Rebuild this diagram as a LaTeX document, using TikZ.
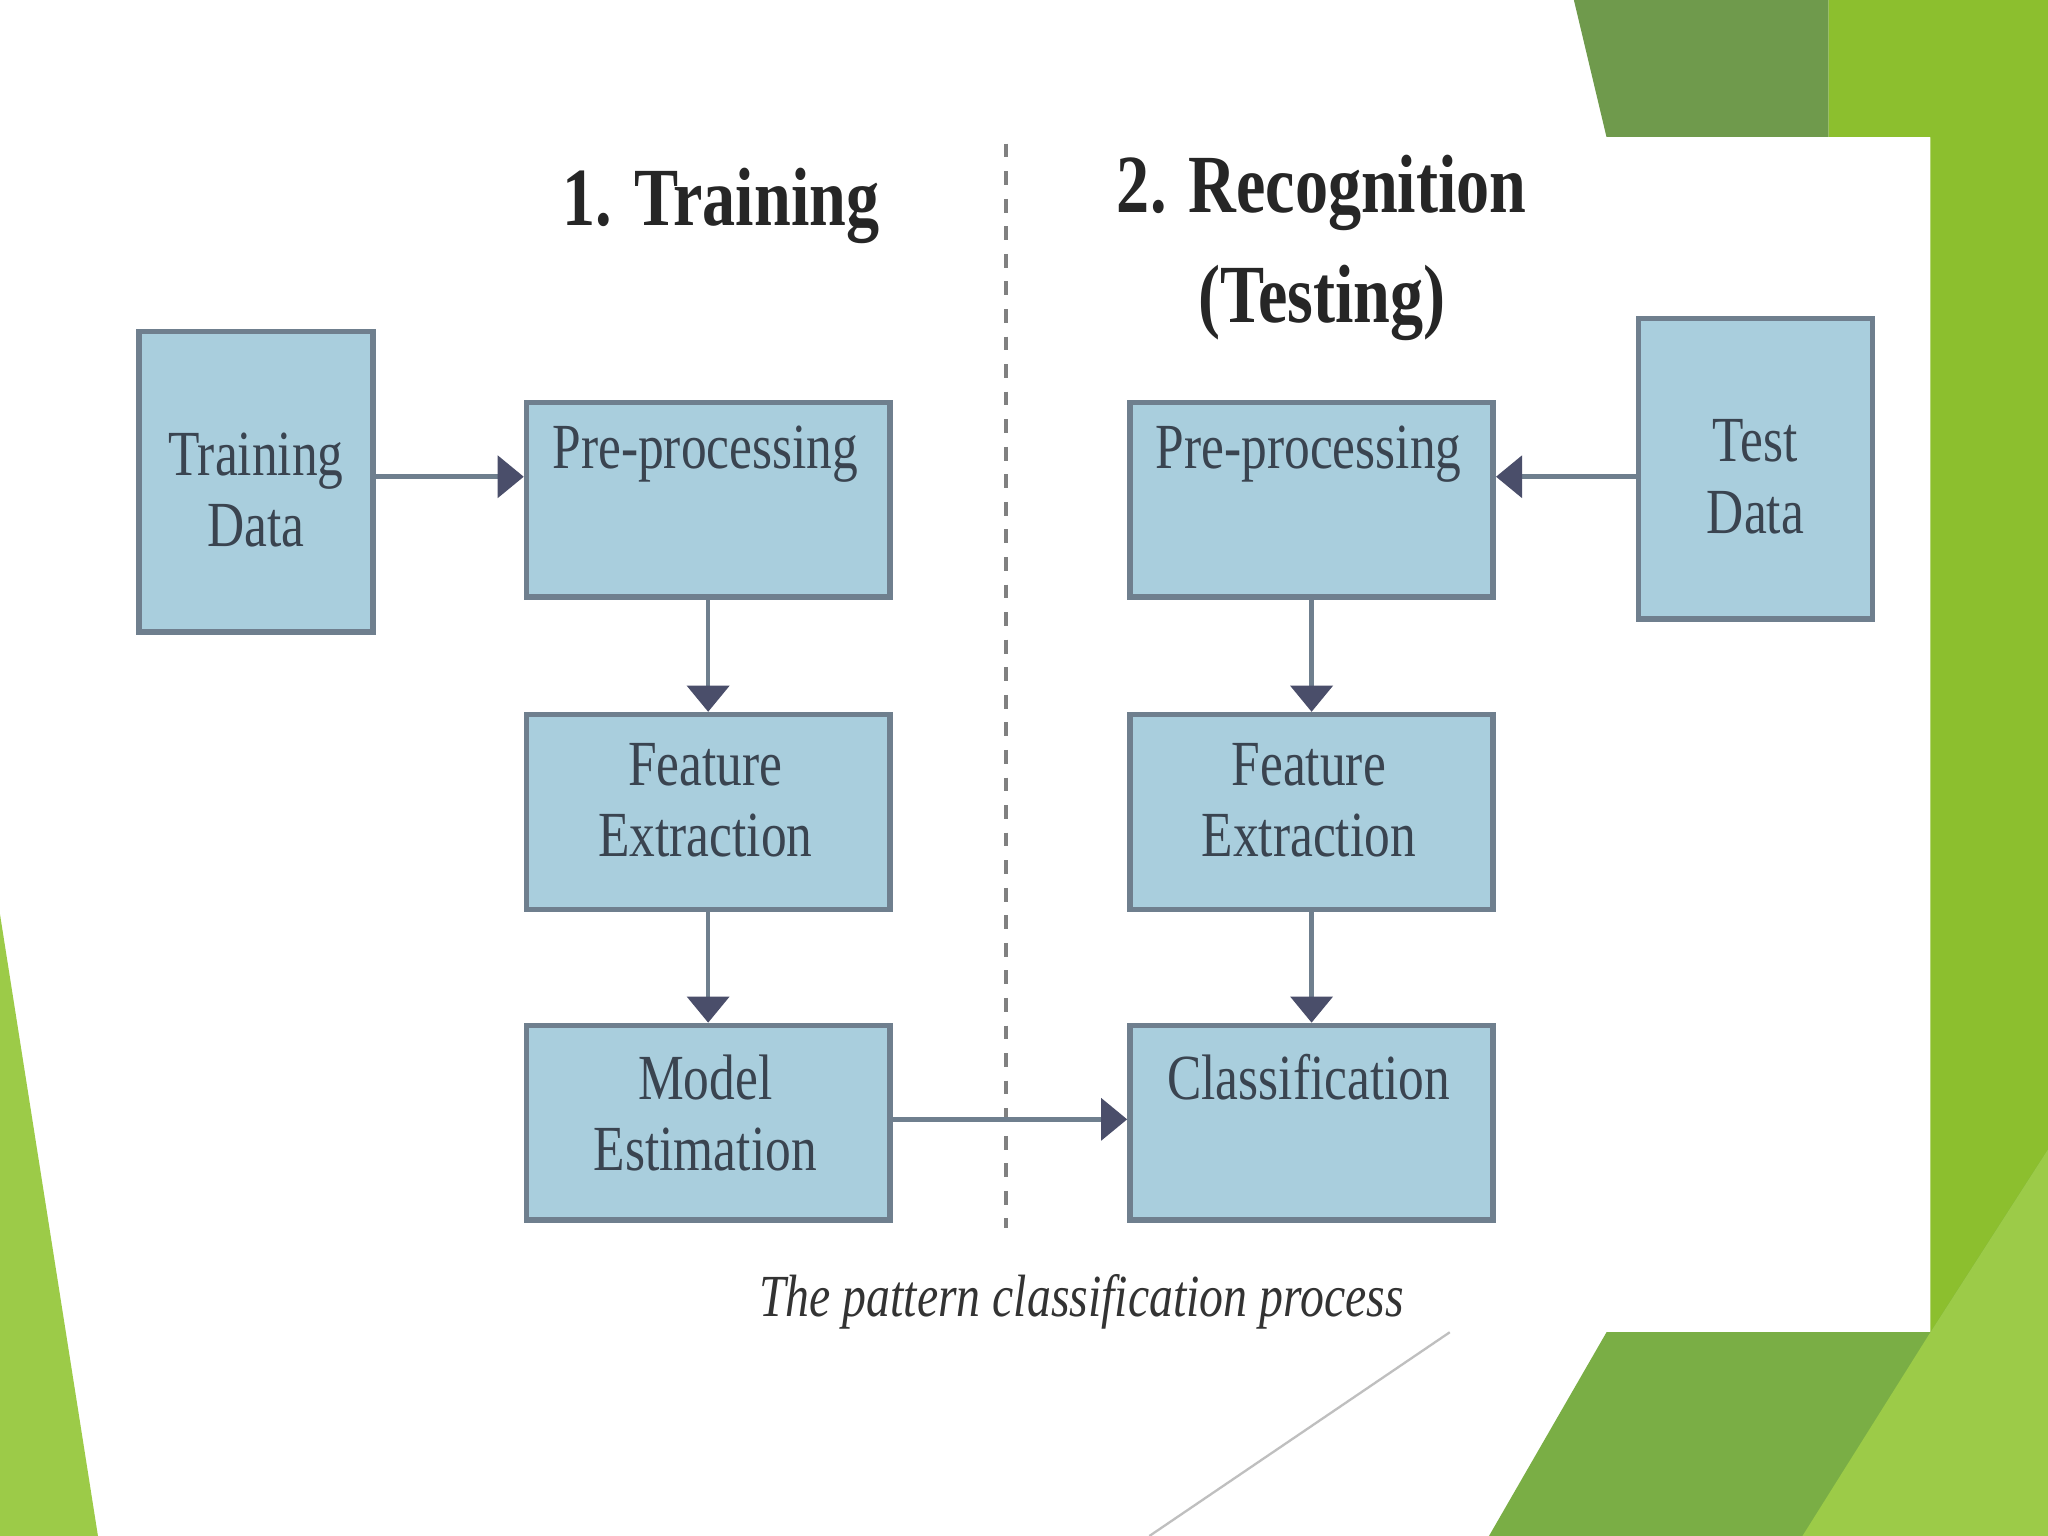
\documentclass[tikz,border=0pt]{standalone}
\usepackage{fontspec}
\setmainfont{Liberation Serif}[FakeStretch=0.8]
\usetikzlibrary{arrows.meta,shapes.geometric}
\definecolor{boxfill}{HTML}{A9CEDD}
\definecolor{boxline}{HTML}{6F7F8E}
\definecolor{arr}{HTML}{4A4E6A}
\definecolor{txt}{HTML}{3A4450}
\definecolor{gA}{HTML}{6F9A4C}
\definecolor{gB}{HTML}{8CBF2E}
\definecolor{gC}{HTML}{7AAE45}
\definecolor{gD}{HTML}{9CCB48}
\begin{document}
\begin{tikzpicture}[x=0.01cm,y=-0.01cm,
  box/.style={draw=boxline,line width=1.2pt,fill=boxfill,minimum width=2.78cm,minimum height=1.49cm,anchor=north west,inner sep=0pt},
  lbl/.style={text=txt,font=\fontsize{14}{15.5}\selectfont,align=center},
  cyl/.style={cylinder,shape border rotate=90,draw=boxline,line width=1.2pt,fill=boxfill,minimum width=1.79cm,minimum height=2.3cm,aspect=0.3,inner sep=0pt},
  con/.style={draw=boxline,line width=1pt,-{Triangle[length=0.2cm,width=0.32cm,color=arr]}}]
\useasboundingbox (0,0) rectangle (1568,1176);
\fill[white] (0,0) rectangle (1568,1176);
% green decoration
\fill[gA] (1205,0) -- (1400,0) -- (1400,105) -- (1230,105) -- cycle;
\fill[gB] (1400,0) -- (1568,0) -- (1568,1176) -- (1478,1176) -- (1478,105) -- (1400,105) -- cycle;
\fill[gC] (1140,1176) -- (1230,1020) -- (1478,1020) -- (1568,880) -- (1568,1176) -- cycle;
\fill[gD] (1380,1176) -- (1478,1020) -- (1568,880) -- (1568,1176) -- cycle;
\fill[white] (60,105) rectangle (1478,1020);
\fill[gD] (0,700) -- (75,1176) -- (0,1176) -- cycle;
\draw[gray!50,line width=0.5pt] (880,1176) -- (1110,1020);
% titles
\node[font=\bfseries\fontsize{18}{24}\selectfont,text=black!85] (t1) at (552,158) {1. Training};
\node[font=\bfseries\fontsize{18}{24}\selectfont,text=black!85,align=center] (t2) at (1012,190) {2. Recognition\\(Testing)};
\draw[dashed,gray,line width=0.8pt] (770,110) coordinate (d1) -- (770,940) coordinate (d2);
% boxes
\node[box] (p1) at (401,306) {};
\node[box] (f1) at (401,545) {};
\node[box] (m1) at (401,783) {};
\node[box] (p2) at (863,306) {};
\node[box] (f2) at (863,545) {};
\node[box] (c2) at (863,783) {};
\node[lbl] at (540,348) {Pre-processing};
\node[lbl] at (540,613) {Feature\\Extraction};
\node[lbl] at (540,852) {Model\\Estimation};
\node[lbl] at (1002,348) {Pre-processing};
\node[lbl] at (1002,613) {Feature\\Extraction};
\node[lbl] at (1002,825) {Classification};
% cylinders
\node[cyl] (td) at (196,370) {};
\node[lbl] at (196,375) {Training\\Data};
\node[cyl] (sd) at (1344,360) {};
\node[lbl] at (1344,365) {Test\\Data};
% connectors
\draw[con] (td.east |- 0,365) -- (p1.west |- 0,365);
\draw[con] (sd.west |- 0,365) -- (p2.east |- 0,365);
\draw[con] (p1) -- (f1);
\draw[con] (f1) -- (m1);
\draw[con] (p2) -- (f2);
\draw[con] (f2) -- (c2);
\draw[con] (m1.east |- 0,857) -- (c2.west |- 0,857);
\node[font=\itshape\fontsize{13}{15}\selectfont,text=black!80] (cap) at (828,997) {The pattern classification process};
\end{tikzpicture}
\end{document}
